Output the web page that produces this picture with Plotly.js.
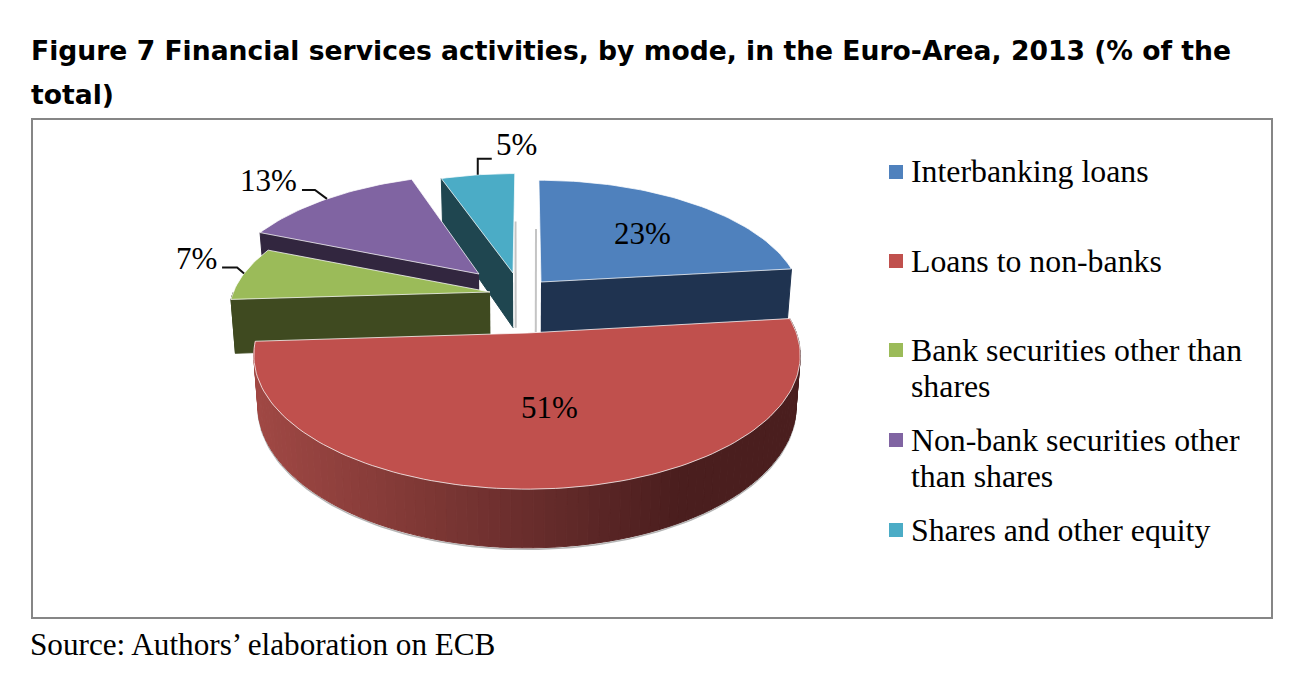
<!DOCTYPE html>
<html><head><meta charset="utf-8">
<script src="https://cdn.plot.ly/plotly-3.0.1.min.js"></script>
<style>html,body{margin:0;padding:0;background:#fff}#c{width:1302px;height:680px}</style>
</head><body><div id="c"></div>
<script>
(function(){
const categories = ["Interbanking loans","Loans to non-banks","Bank securities other than<br>shares","Non-bank securities other<br>than shares","Shares and other equity"];
const values = [23.2,50.8,7.2,13.4,5.4];
const pctLabels = ["23%","51%","7%","13%","5%"];
const topColors = ["#4f81bd","#c0504d","#9bbb59","#8064a2","#4bacc6"];
const cutColors = ["#1f3350","#4a1e1e","#3f4a20","#32263f","#1f4650"];
const SERIF = '"Liberation Serif", serif';

/* projection of the tilted pie */
const cx=526, cy=302, A=264, B=120, K=0.16, ROT=0;
const depth=[52,47,54,52,57], radX=[1,0.98,0.985,1,1], radY=[1.04,1,1,1.04,1.04];
function world(px,py){const u=(cy-py)/B, Y=u/(1-K*u); return [(px-cx)*(1+K*Y)/A, Y];}
function proj(X,Y,low,h){const s=1/(1+K*Y); const f=low?0.985:1;
  return [cx+A*X*s*f, cy-B*Y*s+(low?h*s:0)];}
const explode=[world(541,282),world(527,333),world(490,292),world(479,274),world(513,273)];

const total=values.reduce((a,b)=>a+b,0);
let acc=ROT; const spans=values.map(v=>{const a=acc; acc+=v/total*360; return [a,a+v/total*360];});
const rad=d=>d*Math.PI/180;
function rim(i,d,low){const [ox,oy]=explode[i]; return proj(ox+radX[i]*Math.sin(rad(d)),oy+radY[i]*Math.cos(rad(d)),low,depth[i]);}
function tip(i,low){const [ox,oy]=explode[i]; return proj(ox,oy,low,depth[i]);}
function arc(i,a,b,low){const out=[],n=Math.max(2,Math.ceil(Math.abs(b-a)/1.5));
  for(let k=0;k<=n;k++) out.push(rim(i,a+(b-a)*k/n,low)); return out;}

const traces=[];
function poly(pts,fill,line,w){traces.push({type:'scatter',mode:'lines',x:pts.map(p=>p[0]),y:pts.map(p=>p[1]),
  fill:'toself',fillcolor:fill,line:{color:line||fill,width:w===undefined?1:w},hoverinfo:'skip',showlegend:false});}
function stroke(pts,col,w){traces.push({type:'scatter',mode:'lines',x:pts.map(p=>p[0]),y:pts.map(p=>p[1]),
  line:{color:col,width:w},hoverinfo:'skip',showlegend:false});}
function face(i){const [a,b]=spans[i]; const t=tip(i); poly([t,...arc(i,a,b,false),t],topColors[i],'rgba(255,255,255,0.75)',1);}
function cut(i,d){poly([tip(i),rim(i,d,false),rim(i,d,true),tip(i,true)],cutColors[i]);}
function wall(i,a,b,colorAt){const n=Math.max(1,Math.ceil(Math.abs(b-a)/2));
  for(let k=0;k<n;k++){const d1=a+(b-a)*k/n,d2=a+(b-a)*(k+1)/n;
    const up=arc(i,d1,d2,false),lo=arc(i,d1,d2,true).reverse();
    poly([...up,...lo,up[0]],colorAt((d1+d2)/2));}}
function mix(c1,c2,t){return 'rgb('+c1.map((v,j)=>Math.round(v+(c2[j]-v)*t)).join(',')+')';}
function redShade(d){const x=rim(1,d,false)[0];
  const t=Math.min(1,Math.max(0,(x-255)/(680-255)));
  return mix([160,72,68],[74,30,30],t);}

/* soft shadows behind the two rear slices */
stroke([[tip(4)[0]+2.5,rim(4,spans[4][1])[1]+48],[tip(4,true)[0]+2.5,tip(4,true)[1]]],'#c4c4c4',2);
stroke([[tip(0)[0]-5,tip(0)[1]-53],[tip(0,true)[0]-5,tip(0,true)[1]]],'#c4c4c4',2);

/* far to near */
cut(4,spans[4][0]); face(4);
cut(3,spans[3][0]); face(3);
wall(2,spans[2][0],270,()=>cutColors[2]); cut(2,spans[2][0]); face(2);
cut(0,spans[0][1]); face(0);
stroke(arc(1,spans[1][0],spans[1][1],true).map(p=>[p[0],p[1]+1.5]),'#b5b5b5',1.5);
wall(1,spans[1][0],spans[1][1],redShade); face(1);

/* legend keys */
const keyY=[172,261,350,440,530];
traces.push({type:'scatter',mode:'markers',x:keyY.map(()=>896),y:keyY,
  marker:{symbol:'square',size:14,color:topColors,line:{width:0}},hoverinfo:'skip',showlegend:false});

/* leaders from the rim of the small slices */
function leader(i,dx1,dy1,dx2){const [a,b]=spans[i],p=rim(i,(a+b)/2);
  return {type:'scatter',mode:'lines',x:[p[0],p[0]+dx1,p[0]+dx1+dx2],y:[p[1],p[1]+dy1,p[1]+dy1],
  line:{color:'#111',width:2},hoverinfo:'skip',showlegend:false};}
traces.push(leader(2,-7,-6,-15),leader(3,-12,-9,-13),leader(4,0,-16,14));

const ann=(text,x,y,size,anchor,family)=>({text,x,y,xref:'x',yref:'y',showarrow:false,xanchor:anchor||'center',yanchor:'middle',align:'left',
  font:{family:family||SERIF,size,color:'#000'}});
const annotations=[
  ann(pctLabels[0],642,233,31), ann(pctLabels[1],549,407,31),
  ann(pctLabels[2],196,258,31), ann(pctLabels[3],268,180,31), ann(pctLabels[4],516,144,31),
  ann(categories[0],909,171,31.8,'left'),
  ann(categories[1],909,261,31.8,'left'),
  ann(categories[2],909,370.5,31.8,'left'),
  ann(categories[3],909,460.5,31.8,'left'),
  ann(categories[4],909,530,31.8,'left'),
  ann("Source: Authors’ elaboration on ECB",28,644,31.2,'left')
];
const layout={
  width:1302,height:680,margin:{l:0,r:0,t:0,b:0},paper_bgcolor:'#fff',plot_bgcolor:'#fff',showlegend:false,hovermode:false,
  title:{text:"Figure 7 Financial services activities, by mode, in the Euro-Area, 2013 (% of the<br>total)",
    x:31/1302,xanchor:'left',y:1-60/680,yanchor:'middle',
    font:{family:'"DejaVu Sans", Verdana, sans-serif',size:26.6,color:'#000',weight:'bold'}},
  xaxis:{range:[0,1302],visible:false,fixedrange:true},
  yaxis:{range:[680,0],visible:false,fixedrange:true},
  shapes:[{type:'rect',xref:'x',yref:'y',x0:32,y0:119,x1:1272,y1:618,line:{color:'#868686',width:2},fillcolor:'rgba(0,0,0,0)',layer:'below'}],
  annotations
};
Plotly.newPlot('c',traces,layout,{displayModeBar:false,staticPlot:true}).then(function(gd){
  /* reference line spacing: 44px in the title, 36px in the legend */
  function setGap(sel,px){gd.querySelectorAll(sel).forEach(function(txt){
    txt.querySelectorAll('tspan.line').forEach(function(t,i){ if(i>0) t.setAttribute('dy',px+'px'); });
  });}
  setGap('.gtitle',44);
  setGap('.annotation-text',36);
  Array.prototype.forEach.call(gd.querySelectorAll('.gtitle'),function(){});
});
})();
</script></body></html>
